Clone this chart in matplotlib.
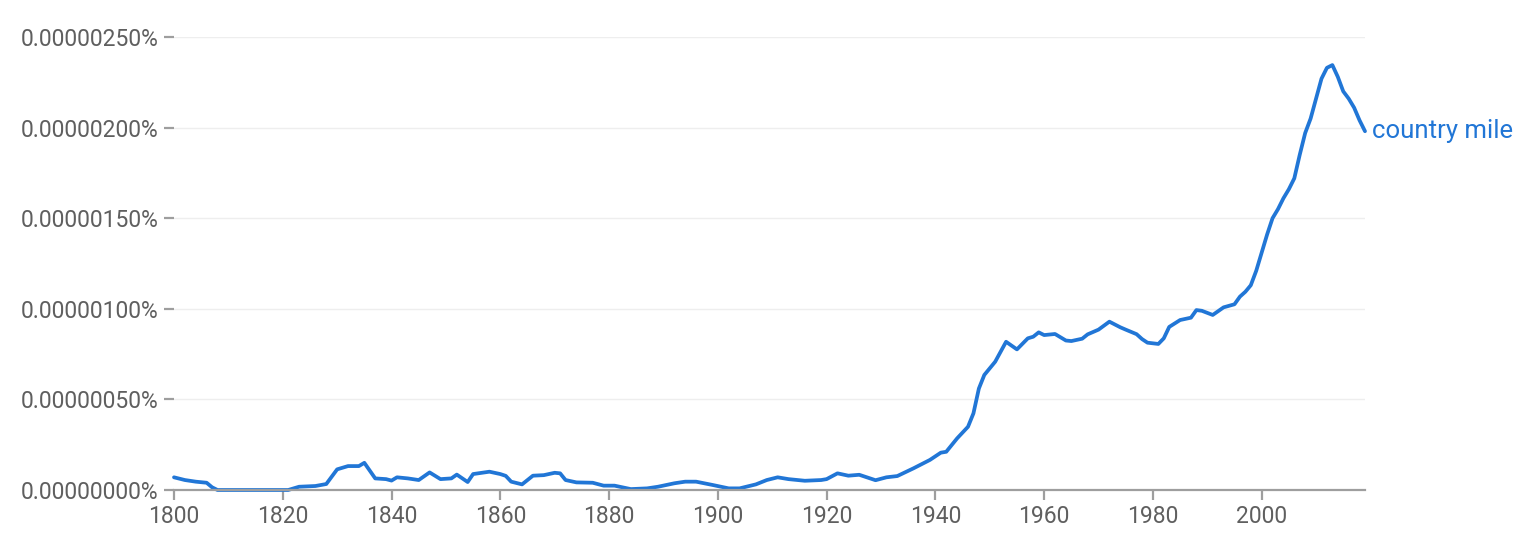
import matplotlib.pyplot as plt
from matplotlib.ticker import FuncFormatter

plt.rcParams['font.family'] = ['Roboto', 'DejaVu Sans']

# frequency in units of 1e-8 percent
years = [1800, 1802, 1804, 1806, 1807, 1808, 1815, 1821, 1823, 1826, 1828, 1830,
         1832, 1834, 1835, 1837, 1839, 1840, 1841, 1843, 1845, 1847, 1849, 1851,
         1852, 1854, 1855, 1858, 1860, 1861, 1862, 1864, 1866, 1868, 1870, 1871,
         1872, 1874, 1877, 1879, 1881, 1884, 1887, 1889, 1892, 1894, 1896, 1899,
         1902, 1904, 1907, 1909, 1911, 1913, 1916, 1919, 1920, 1922, 1924, 1926,
         1929, 1931, 1933, 1936, 1939, 1941, 1942, 1944, 1946, 1947, 1948, 1949,
         1951, 1953, 1955, 1957, 1958, 1959, 1960, 1962, 1964, 1965, 1967, 1968,
         1970, 1972, 1974, 1975, 1977, 1978, 1979, 1981, 1982, 1983, 1985, 1987,
         1988, 1989, 1991, 1993, 1995, 1996, 1997, 1998, 1999, 2000, 2001, 2002,
         2003, 2004, 2005, 2006, 2007, 2008, 2009, 2010, 2011, 2012, 2013, 2014,
         2015, 2016, 2017, 2018, 2019]
freq = [7, 5.5, 4.6, 4, 1.5, 0, 0, 0, 1.8, 2.2, 3.3, 11.4,
        13.2, 13.2, 15, 6.4, 6, 5.2, 7, 6.4, 5.5, 9.7, 6, 6.4,
        8.5, 4.4, 8.8, 10.1, 8.8, 7.8, 4.6, 3.1, 7.9, 8.2, 9.5, 9.2,
        5.5, 4.2, 4, 2.4, 2.4, 0.5, 0.9, 1.8, 3.7, 4.6, 4.6, 2.8,
        0.9, 0.9, 3.1, 5.5, 7, 6, 5.1, 5.5, 6, 9.2, 7.9, 8.4,
        5.4, 7, 7.7, 12, 16.6, 20.6, 21.1, 28.5, 34.9, 42.3, 56, 63.5,
        70.8, 81.8, 77.6, 83.7, 84.6, 87, 85.5, 86.1, 82.5, 82.2, 83.5, 85.9,
        88.5, 92.9, 89.8, 88.5, 86, 83.3, 81.3, 80.6, 83.7, 90, 93.8, 95.1,
        99.3, 98.9, 96.6, 100.8, 102.5, 106.7, 109.4, 113, 121, 131, 141, 150,
        155, 161, 166, 172, 185, 197, 205, 216, 227, 233, 234.5, 228,
        220, 216, 211, 204, 198]
label = 'country mile'
x_ticks = list(range(1800, 2001, 20))
y_ticks = [0, 50, 100, 150, 200, 250]

line_color = '#2176d6'
text_color = '#5f5f5f'
axis_color = '#9e9e9e'

fig = plt.figure(figsize=(15.36, 5.43), dpi=100)
ax = fig.add_axes([174 / 1536, 1 - 490 / 543, (1365 - 174) / 1536, (490 - 37) / 543])

ax.plot(years, freq, color=line_color, lw=2.7, solid_capstyle='round',
        solid_joinstyle='round', clip_on=False)
ax.annotate(label, (years[-1], freq[-1]), xytext=(5, 0), textcoords='offset points',
            color=line_color, fontsize=18.5, va='center', ha='left')

ax.set_xlim(1800, 2019)
ax.set_ylim(0, 250)
ax.set_xticks(x_ticks)
ax.set_yticks(y_ticks)
ax.yaxis.set_major_formatter(FuncFormatter(lambda v, p: f"{v * 1e-8:.8f}%"))

for s in ['top', 'right', 'left']:
    ax.spines[s].set_visible(False)
ax.spines['bottom'].set_color(axis_color)
ax.spines['bottom'].set_linewidth(1.6)

ax.grid(axis='y', color='#eeeeee', lw=1)
ax.set_axisbelow(True)
ax.tick_params(axis='x', length=7, width=1.6, color=axis_color, pad=4,
               labelsize=16.5, labelcolor=text_color)
ax.tick_params(axis='y', length=7, width=1.6, color=axis_color, pad=4,
               labelsize=16.5, labelcolor=text_color)

fig.savefig('out.png', dpi=100)
